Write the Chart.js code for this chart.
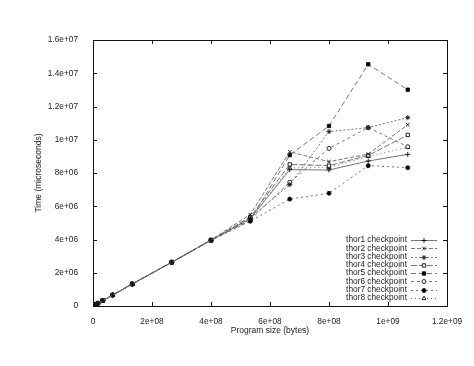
<!DOCTYPE html>
<html>
<head>
<meta charset="utf-8">
<script src="https://cdn.jsdelivr.net/npm/chart.js@4.4.0/dist/chart.umd.min.js"></script>
<style>
  html, body { margin: 0; padding: 0; background: #fff; }
  #wrap { width: 474px; height: 366px; }
</style>
</head>
<body>
<div id="wrap"><canvas id="timeChart" width="474" height="366"></canvas></div>
<script>
// program sizes (bytes)
const sizes = [1.0e6, 2.1e6, 4.2e6, 8.3e6, 1.67e7, 3.33e7, 6.67e7, 1.33e8, 2.67e8, 4.0e8, 5.33e8, 6.67e8, 8.0e8, 9.33e8, 1.067e9];

// time (microseconds) per series
const thor1 = [1.0e4, 2.1e4, 4.1e4, 8.2e4, 1.65e5, 3.3e5, 6.6e5, 1.32e6, 2.63e6, 3.96e6, 5.25e6, 8.20e6, 8.18e6, 8.72e6, 9.12e6];
const thor2 = [1.0e4, 2.1e4, 4.1e4, 8.2e4, 1.65e5, 3.3e5, 6.6e5, 1.33e6, 2.64e6, 3.98e6, 5.50e6, 9.28e6, 8.68e6, 9.14e6, 1.091e7];
const thor3 = [1.0e4, 2.1e4, 4.1e4, 8.2e4, 1.65e5, 3.3e5, 6.6e5, 1.32e6, 2.63e6, 3.95e6, 5.30e6, 7.30e6, 1.049e7, 1.073e7, 1.133e7];
const thor4 = [1.0e4, 2.1e4, 4.1e4, 8.2e4, 1.65e5, 3.3e5, 6.6e5, 1.33e6, 2.64e6, 3.97e6, 5.35e6, 8.52e6, 8.44e6, 9.06e6, 1.029e7];
const thor5 = [1.0e4, 2.1e4, 4.1e4, 8.2e4, 1.65e5, 3.3e5, 6.6e5, 1.32e6, 2.63e6, 3.95e6, 5.15e6, 9.08e6, 1.083e7, 1.454e7, 1.301e7];
const thor6 = [1.0e4, 2.1e4, 4.1e4, 8.2e4, 1.65e5, 3.3e5, 6.6e5, 1.32e6, 2.63e6, 3.95e6, 5.20e6, 7.44e6, 9.48e6, 1.073e7, 9.58e6];
const thor7 = [1.0e4, 2.1e4, 4.1e4, 8.2e4, 1.65e5, 3.3e5, 6.6e5, 1.32e6, 2.62e6, 3.94e6, 5.10e6, 6.43e6, 6.78e6, 8.44e6, 8.32e6];
const thor8 = [1.0e4, 2.1e4, 4.1e4, 8.2e4, 1.65e5, 3.3e5, 6.6e5, 1.32e6, 2.63e6, 3.96e6, 5.30e6, 8.30e6, 8.34e6, 9.00e6, 9.55e6];

const seriesNames = ['thor1 checkpoint', 'thor2 checkpoint', 'thor3 checkpoint', 'thor4 checkpoint',
                     'thor5 checkpoint', 'thor6 checkpoint', 'thor7 checkpoint', 'thor8 checkpoint'];
const seriesValues = [thor1, thor2, thor3, thor4, thor5, thor6, thor7, thor8];

// tick values and labels
const xTickValues = [0, 2e8, 4e8, 6e8, 8e8, 1e9, 1.2e9];
const xTickLabels = ['0', '2e+08', '4e+08', '6e+08', '8e+08', '1e+09', '1.2e+09'];
const yTickValues = [0, 2e6, 4e6, 6e6, 8e6, 1e7, 1.2e7, 1.4e7, 1.6e7];
const yTickLabels = ['0', '2e+06', '4e+06', '6e+06', '8e+06', '1e+07', '1.2e+07', '1.4e+07', '1.6e+07'];

// gnuplot-ish point / dash styles
const pointStyles = ['cross', 'crossRot', 'star', 'rect', 'rect', 'circle', 'circle', 'triangle'];
const pointFills  = ['#000', '#000', '#000', '#fff', '#000', '#fff', '#000', '#fff'];
const pointSizes  = [2.5, 2.5, 2.5, 2.4, 2.4, 2, 2, 2.3];
const dashes = [[], [4, 2], [2, 2], [6, 2], [5, 3], [3, 3], [2, 3], [1, 3]];
const fontFamily = "'Liberation Sans', Arial, sans-serif";

const datasets = seriesValues.map((vals, i) => ({
    label: seriesNames[i],
    data: vals.map((v, j) => ({ x: sizes[j], y: v })),
    borderColor: '#666',
    borderWidth: 0.9,
    borderDash: dashes[i],
    pointStyle: pointStyles[i],
    pointRadius: pointSizes[i],
    pointBorderColor: '#111',
    pointBackgroundColor: pointFills[i],
    pointBorderWidth: 0.9,
    fill: false,
    tension: 0
}));

// frame + inward ticks + legend like gnuplot
const gnuplotFrame = {
    id: 'gnuplotFrame',
    afterDatasetsDraw(chart) {
        const ctx = chart.ctx;
        const a = chart.chartArea;
        const xs = chart.scales.x, ys = chart.scales.y;
        ctx.save();
        ctx.strokeStyle = '#111';
        ctx.lineWidth = 1;
        ctx.setLineDash([]);
        ctx.strokeRect(Math.round(a.left) + 0.5, Math.round(a.top) + 0.5,
                       Math.round(a.right - a.left), Math.round(a.bottom - a.top));
        ctx.beginPath();
        xTickValues.forEach(v => {
            const px = Math.round(xs.getPixelForValue(v)) + 0.5;
            ctx.moveTo(px, a.bottom); ctx.lineTo(px, a.bottom - 4);
            ctx.moveTo(px, a.top); ctx.lineTo(px, a.top + 4);
        });
        yTickValues.forEach(v => {
            const py = Math.round(ys.getPixelForValue(v)) + 0.5;
            ctx.moveTo(a.left, py); ctx.lineTo(a.left + 4, py);
            ctx.moveTo(a.right, py); ctx.lineTo(a.right - 4, py);
        });
        ctx.stroke();

        // legend
        ctx.font = '8.3px ' + fontFamily;
        ctx.fillStyle = '#222';
        ctx.textAlign = 'right';
        ctx.textBaseline = 'middle';
        const textRight = a.right - 40;
        const x0 = a.right - 36, x1 = a.right - 10;
        chart.data.datasets.forEach((ds, i) => {
            const y = a.bottom - 66 + i * 8.25;
            ctx.fillText(ds.label, textRight, y);
            ctx.strokeStyle = '#666';
            ctx.lineWidth = 0.9;
            ctx.setLineDash(ds.borderDash);
            ctx.beginPath();
            ctx.moveTo(x0, Math.round(y) + 0.5);
            ctx.lineTo(x1, Math.round(y) + 0.5);
            ctx.stroke();
            ctx.setLineDash([]);
            ctx.strokeStyle = '#111';
            ctx.fillStyle = ds.pointBackgroundColor;
            ctx.lineWidth = 0.9;
            Chart.helpers.drawPoint(ctx, {
                pointStyle: ds.pointStyle, radius: ds.pointRadius, rotation: 0, borderWidth: 0.9
            }, (x0 + x1) / 2, Math.round(y) + 0.5);
            ctx.fillStyle = '#222';
        });
        ctx.restore();
    }
};

const ctx = document.getElementById('timeChart').getContext('2d');
const timeChart = new Chart(ctx, {
    type: 'line',
    data: { datasets: datasets },
    options: {
        responsive: false,
        animation: false,
        layout: { padding: { top: 40, right: 27, left: 34, bottom: 30 } },
        plugins: {
            legend: { display: false },
            tooltip: { enabled: false }
        },
        scales: {
            x: {
                type: 'linear',
                min: 0,
                max: 1.2e9,
                afterBuildTicks: s => { s.ticks = xTickValues.map(v => ({ value: v })); },
                afterFit: s => { s.height = 30; },
                grid: { display: false },
                border: { display: false },
                ticks: {
                    padding: 3,
                    color: '#222',
                    font: { family: fontFamily, size: 8.3 },
                    maxRotation: 0,
                    callback: (v) => xTickLabels[xTickValues.indexOf(v)]
                },
                title: {
                    display: true,
                    text: 'Program size (bytes)',
                    color: '#222',
                    padding: { top: 2, bottom: 0 },
                    font: { family: fontFamily, size: 8.5 }
                }
            },
            y: {
                type: 'linear',
                min: 0,
                max: 1.6e7,
                afterBuildTicks: s => { s.ticks = yTickValues.map(v => ({ value: v })); },
                afterFit: s => { s.width = 59; },
                grid: { display: false },
                border: { display: false },
                ticks: {
                    padding: 7,
                    color: '#222',
                    font: { family: fontFamily, size: 8.3 },
                    callback: (v) => yTickLabels[yTickValues.indexOf(v)]
                },
                title: {
                    display: true,
                    text: 'Time (microseconds)',
                    color: '#222',
                    padding: 0,
                    font: { family: fontFamily, size: 8.5 }
                }
            }
        }
    },
    plugins: [gnuplotFrame]
});
</script>
</body>
</html>
